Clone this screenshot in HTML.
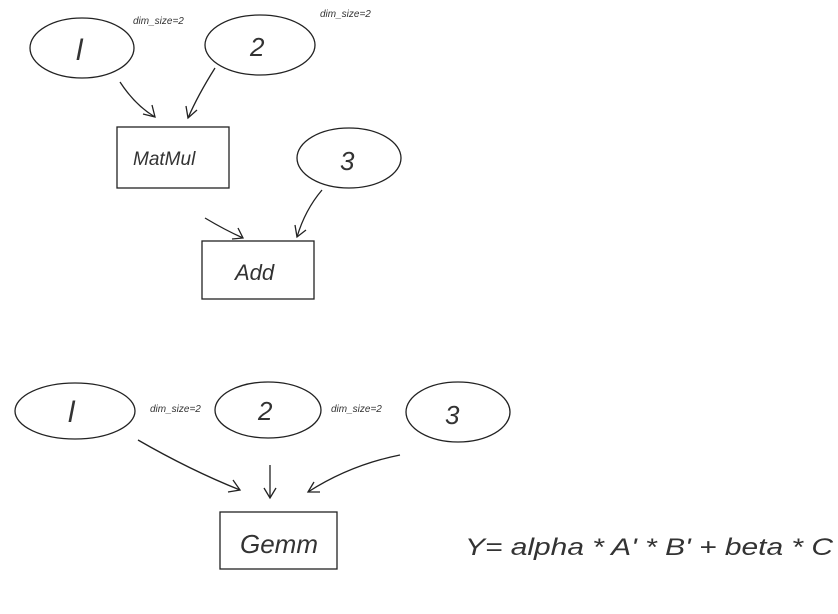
<!DOCTYPE html>
<html><head><meta charset="utf-8"><style>
html,body{margin:0;padding:0;background:#fff;width:838px;height:614px;overflow:hidden}
svg text{font-family:"Liberation Sans",sans-serif;font-style:italic;fill:#333}
</style></head><body>
<svg width="838" height="614" viewBox="0 0 838 614" xmlns="http://www.w3.org/2000/svg">
<g fill="none" stroke="#222" stroke-width="1.3">
<ellipse cx="82" cy="48" rx="52" ry="30"/>
<ellipse cx="260" cy="45" rx="55" ry="30"/>
<rect x="117" y="127" width="112" height="61"/>
<ellipse cx="349" cy="158" rx="52" ry="30"/>
<rect x="202" y="241" width="112" height="58"/>
<path d="M120 82 Q135 105 155 117"/><path d="M143 114 L155 117 L152 105"/>
<path d="M215 68 Q198 95 188 118"/><path d="M186 106 L188 118 L197 110"/>
<path d="M205 218 Q225 230 243 238"/><path d="M232 239 L243 238 L238 228"/>
<path d="M322 190 Q305 210 297 237"/><path d="M295 225 L297 237 L306 230"/>
<ellipse cx="75" cy="411" rx="60" ry="28"/>
<ellipse cx="268" cy="410" rx="53" ry="28"/>
<ellipse cx="458" cy="412" rx="52" ry="30"/>
<rect x="220" y="512" width="117" height="57"/>
<path d="M138 440 Q190 470 240 490"/><path d="M228 492 L240 490 L233 480"/>
<path d="M270 465 L270 498"/><path d="M264 488 L270 498 L276 488"/>
<path d="M400 455 Q350 465 308 492"/><path d="M320 492 L308 492 L314 482"/>
</g>
<text x="76" y="60" font-size="30">l</text>
<text x="250" y="56" font-size="26">2</text>
<text x="340" y="170" font-size="26">3</text>
<text x="133" y="165" font-size="19">MatMul</text>
<text x="235" y="280" font-size="22">Add</text>
<text x="133" y="24" font-size="10">dim_size=2</text>
<text x="320" y="17" font-size="10">dim_size=2</text>
<text x="68" y="422" font-size="30">l</text>
<text x="258" y="420" font-size="26">2</text>
<text x="445" y="424" font-size="26">3</text>
<text x="150" y="412" font-size="10">dim_size=2</text>
<text x="331" y="412" font-size="10">dim_size=2</text>
<text x="240" y="553" font-size="26">Gemm</text>
<text x="465" y="555" font-size="24" textLength="368" lengthAdjust="spacingAndGlyphs">Y= alpha * A' * B' + beta * C</text>
</svg>
</body></html>
